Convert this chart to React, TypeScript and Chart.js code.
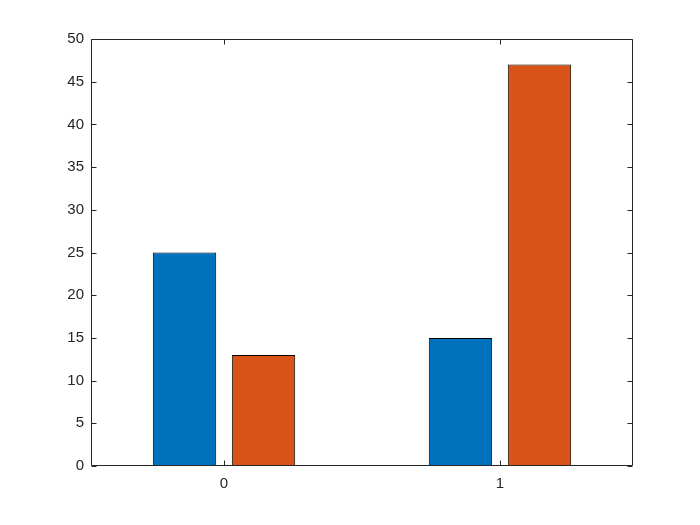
import React, { useEffect, useRef } from "react";
import { Chart, registerables } from "chart.js";

Chart.register(...registerables);

const categories = [0, 1];
const seriesA = [25, 15];
const seriesB = [13, 47];
const yTickValues = [0, 5, 10, 15, 20, 25, 30, 35, 40, 45, 50];

const AXIS_COLOR = "#262626";
const FONT = { family: "'Liberation Sans', Arial, Helvetica, sans-serif", size: 15 };

const boxPlugin = {
  id: "matlabBox",
  afterDatasetsDraw(chart: any) {
    const { ctx, chartArea } = chart;
    const { left, right, top, bottom } = chartArea;
    const xs = chart.scales.x;
    const ys = chart.scales.y;
    const tl = 5;
    ctx.save();
    ctx.strokeStyle = AXIS_COLOR;
    ctx.lineWidth = 1;
    const L = Math.round(left) + 0.5;
    const R = Math.round(right) - 0.5;
    const T = Math.round(top) + 0.5;
    const B = Math.round(bottom) - 0.5;
    ctx.beginPath();
    ctx.rect(L, T, R - L, B - T);
    ctx.stroke();
    ctx.beginPath();
    xs.ticks.forEach((t: any) => {
      const px = Math.round(xs.getPixelForValue(t.value)) + 0.5;
      ctx.moveTo(px, B);
      ctx.lineTo(px, B - tl);
      ctx.moveTo(px, T);
      ctx.lineTo(px, T + tl);
    });
    ys.ticks.forEach((t: any) => {
      const py = Math.round(ys.getPixelForValue(t.value)) + 0.5;
      ctx.moveTo(L, py);
      ctx.lineTo(L + tl, py);
      ctx.moveTo(R, py);
      ctx.lineTo(R - tl, py);
    });
    ctx.stroke();
    ctx.restore();
  },
};

export default function App() {
  const canvasRef = useRef<HTMLCanvasElement | null>(null);

  useEffect(() => {
    if (!canvasRef.current) return;
    const chart = new Chart(canvasRef.current, {
      type: "bar",
      data: {
        datasets: [
          {
            data: categories.map((c, i) => ({ x: c, y: seriesA[i] })),
            backgroundColor: "#0072BD",
            borderColor: "#000000",
            borderWidth: 1,
            borderSkipped: false,
          },
          {
            data: categories.map((c, i) => ({ x: c, y: seriesB[i] })),
            backgroundColor: "#D95319",
            borderColor: "#000000",
            borderWidth: 1,
            borderSkipped: false,
          },
        ],
      },
      options: {
        animation: false,
        responsive: true,
        maintainAspectRatio: false,
        categoryPercentage: 0.5725,
        barPercentage: 0.8025,
        layout: { padding: { top: 39, right: 67, left: 0, bottom: 0 } },
        plugins: { legend: { display: false }, tooltip: { enabled: false } },
        scales: {
          x: {
            type: "linear",
            min: -0.482,
            max: 1.482,
            offset: false,
            grid: { display: false, drawTicks: false, offset: false },
            border: { display: false },
            ticks: { color: AXIS_COLOR, font: FONT, padding: 9, maxRotation: 0 },
            afterBuildTicks: (scale: any) => {
              scale.ticks = categories.map((v) => ({ value: v }));
            },
            afterFit: (scale: any) => {
              scale.height = 59;
            },
          },
          y: {
            min: 0,
            max: 50,
            grid: { display: false, drawTicks: false },
            border: { display: false },
            ticks: { color: AXIS_COLOR, font: FONT, padding: 7 },
            afterBuildTicks: (scale: any) => {
              scale.ticks = yTickValues.map((v) => ({ value: v }));
            },
            afterFit: (scale: any) => {
              scale.width = 91;
            },
          },
        },
      } as any,
      plugins: [boxPlugin],
    });
    return () => chart.destroy();
  }, []);

  return (
    <div style={{ position: "fixed", left: 0, top: 0, width: 700, height: 525, background: "#fff" }}>
      <canvas ref={canvasRef} />
    </div>
  );
}
